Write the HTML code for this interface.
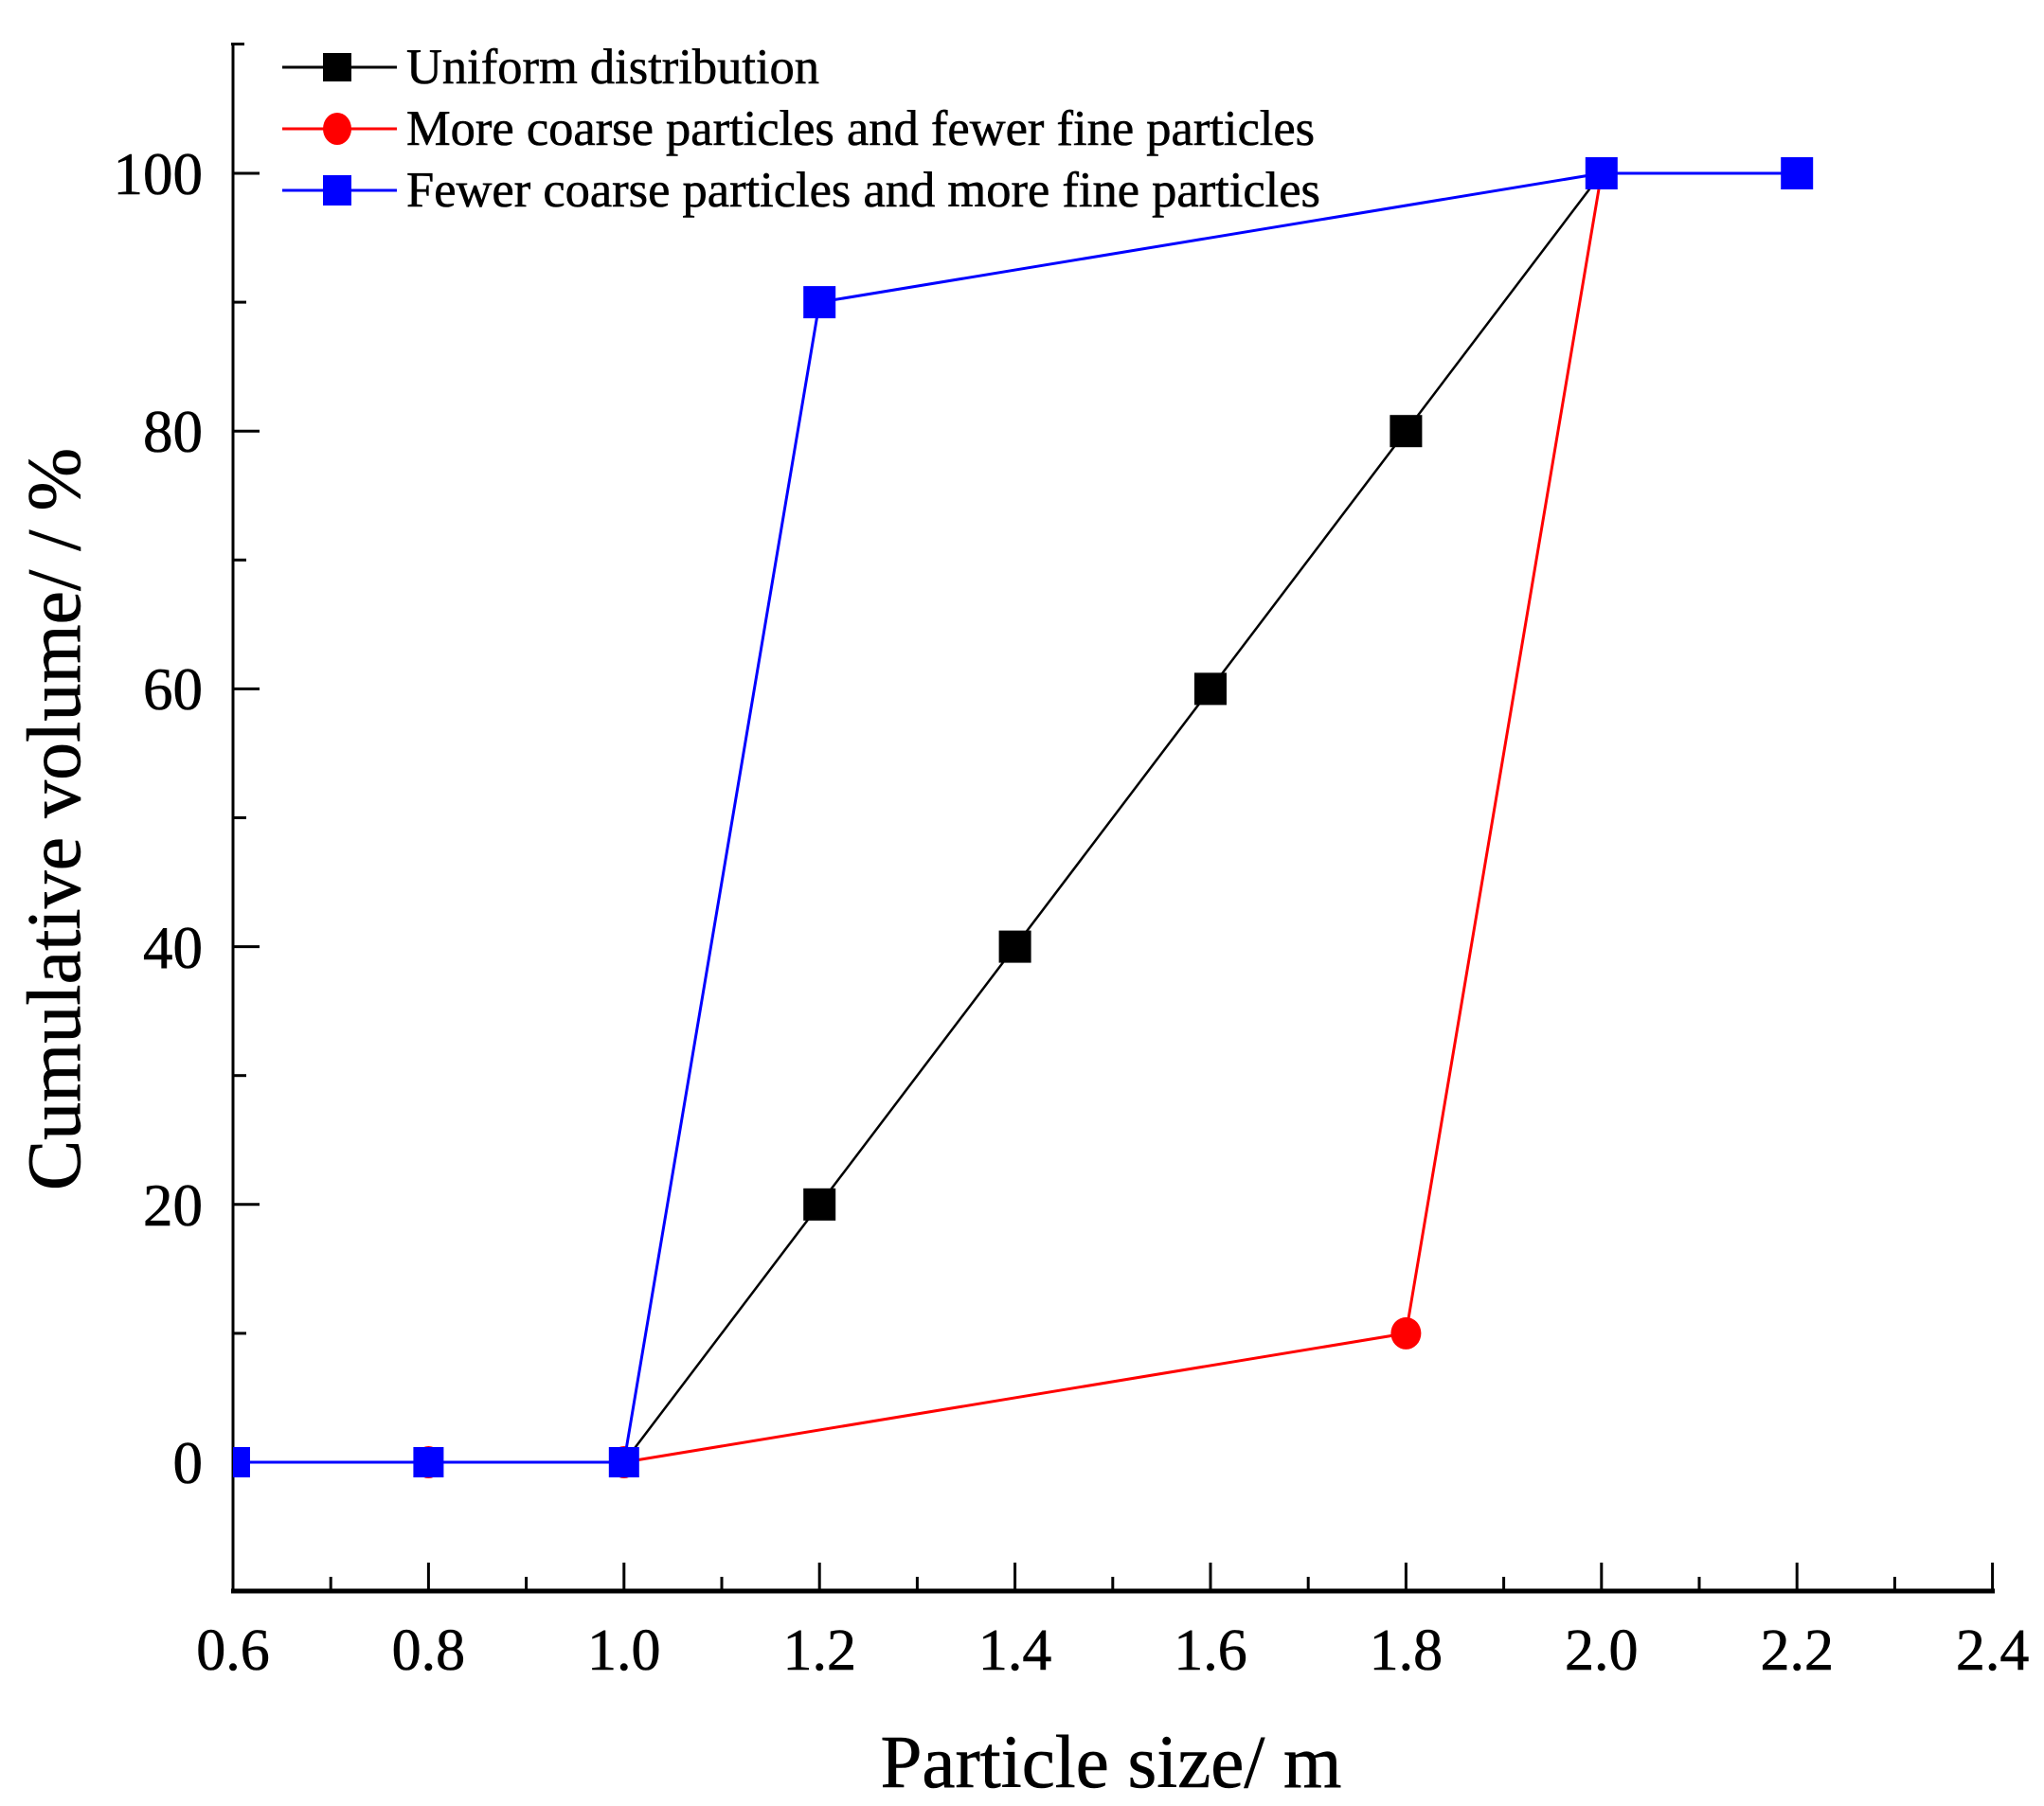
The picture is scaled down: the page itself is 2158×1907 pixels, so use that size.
<!DOCTYPE html>
<html><head><meta charset="utf-8"><style>html,body{margin:0;padding:0;background:#fff}svg{display:block}text{font-family:"Liberation Serif",serif;fill:#000;stroke:#000;stroke-width:0.6}</style></head>
<body>
<svg width="2158" height="1907" viewBox="0 0 2158 1907" xmlns="http://www.w3.org/2000/svg">
<line x1="246" y1="45" x2="246" y2="1682" stroke="#000" stroke-width="3"/>
<line x1="244" y1="46.5" x2="258" y2="46.5" stroke="#000" stroke-width="3"/>
<line x1="244" y1="1680" x2="2106" y2="1680" stroke="#000" stroke-width="5"/>
<g stroke="#000" stroke-width="3">
<line x1="246" y1="1544" x2="274" y2="1544"/>
<line x1="246" y1="1271.8" x2="274" y2="1271.8"/>
<line x1="246" y1="999.6" x2="274" y2="999.6"/>
<line x1="246" y1="727.4" x2="274" y2="727.4"/>
<line x1="246" y1="455.2" x2="274" y2="455.2"/>
<line x1="246" y1="183" x2="274" y2="183"/>
<line x1="246" y1="1407.9" x2="260" y2="1407.9"/>
<line x1="246" y1="1135.7" x2="260" y2="1135.7"/>
<line x1="246" y1="863.5" x2="260" y2="863.5"/>
<line x1="246" y1="591.3" x2="260" y2="591.3"/>
<line x1="246" y1="319.1" x2="260" y2="319.1"/>
</g>
<g stroke="#000" stroke-width="3">
<line x1="246" y1="1680" x2="246" y2="1650"/>
<line x1="452.4" y1="1680" x2="452.4" y2="1650"/>
<line x1="658.8" y1="1680" x2="658.8" y2="1650"/>
<line x1="865.2" y1="1680" x2="865.2" y2="1650"/>
<line x1="1071.6" y1="1680" x2="1071.6" y2="1650"/>
<line x1="1278" y1="1680" x2="1278" y2="1650"/>
<line x1="1484.4" y1="1680" x2="1484.4" y2="1650"/>
<line x1="1690.8" y1="1680" x2="1690.8" y2="1650"/>
<line x1="1897.2" y1="1680" x2="1897.2" y2="1650"/>
<line x1="2103.6" y1="1680" x2="2103.6" y2="1650"/>
<line x1="349.2" y1="1680" x2="349.2" y2="1665"/>
<line x1="555.6" y1="1680" x2="555.6" y2="1665"/>
<line x1="762" y1="1680" x2="762" y2="1665"/>
<line x1="968.4" y1="1680" x2="968.4" y2="1665"/>
<line x1="1174.8" y1="1680" x2="1174.8" y2="1665"/>
<line x1="1381.2" y1="1680" x2="1381.2" y2="1665"/>
<line x1="1587.6" y1="1680" x2="1587.6" y2="1665"/>
<line x1="1794" y1="1680" x2="1794" y2="1665"/>
<line x1="2000.4" y1="1680" x2="2000.4" y2="1665"/>
</g>
<g font-size="63" text-anchor="end">
<text x="214" y="1566">0</text>
<text x="214" y="1294">20</text>
<text x="214" y="1022">40</text>
<text x="214" y="749">60</text>
<text x="214" y="477">80</text>
<text x="214" y="205">100</text>
</g>
<g font-size="62" text-anchor="middle">
<text x="246" y="1763">0.6</text>
<text x="452.4" y="1763">0.8</text>
<text x="658.8" y="1763">1.0</text>
<text x="865.2" y="1763">1.2</text>
<text x="1071.6" y="1763">1.4</text>
<text x="1278" y="1763">1.6</text>
<text x="1484.4" y="1763">1.8</text>
<text x="1690.8" y="1763">2.0</text>
<text x="1897.2" y="1763">2.2</text>
<text x="2103.6" y="1763">2.4</text>
</g>
<text x="1173" y="1887" font-size="79" text-anchor="middle">Particle size/ m</text>
<text transform="translate(84,865) rotate(-90)" font-size="80" text-anchor="middle">Cumulative volume/ / %</text>
<polyline fill="none" stroke="#000" stroke-width="2.5" points="246,1544 452.4,1544 658.8,1544 865.2,1271.8 1071.6,999.6 1278,727.4 1484.4,455.2 1690.8,183"/>
<g fill="#000">
<rect x="848.2" y="1254.8" width="34" height="34"/>
<rect x="1054.6" y="982.6" width="34" height="34"/>
<rect x="1261" y="710.4" width="34" height="34"/>
<rect x="1467.4" y="438.2" width="34" height="34"/>
</g>
<polyline fill="none" stroke="#f00" stroke-width="3" points="246,1544 452.4,1544 658.8,1544 1484.4,1407.9 1690.8,183 1897.2,183"/>
<g fill="#f00">
<ellipse cx="452.4" cy="1544" rx="15" ry="17"/>
<ellipse cx="658.8" cy="1544" rx="15" ry="17"/>
<ellipse cx="1484.4" cy="1407.9" rx="16" ry="17"/>
<ellipse cx="1690.8" cy="183" rx="16" ry="17"/>
<ellipse cx="1897.2" cy="183" rx="16" ry="17"/>
</g>
<polyline fill="none" stroke="#00f" stroke-width="3" points="246,1544 452.4,1544 658.8,1544 865.2,319.1 1690.8,183 1897.2,183"/>
<g fill="#00f">
<rect x="246" y="1528" width="18" height="32"/>
<rect x="436.4" y="1528" width="32" height="32"/>
<rect x="642.8" y="1528" width="32" height="32"/>
<rect x="848.2" y="302.1" width="34" height="34"/>
<rect x="1673.8" y="166" width="34" height="34"/>
<rect x="1880.2" y="166" width="34" height="34"/>
</g>
<line x1="298" y1="71" x2="419" y2="71" stroke="#000" stroke-width="3"/>
<rect x="341" y="56" width="30" height="30" fill="#000"/>
<text x="429" y="88" font-size="52.5">Uniform distribution</text>
<line x1="298" y1="136" x2="419" y2="136" stroke="#f00" stroke-width="3"/>
<ellipse cx="356" cy="136" rx="15" ry="17" fill="#f00"/>
<text x="429" y="153" font-size="52.5">More coarse particles and fewer fine particles</text>
<line x1="298" y1="201" x2="419" y2="201" stroke="#00f" stroke-width="3"/>
<rect x="341" y="185" width="30" height="32" fill="#00f"/>
<text x="429" y="218" font-size="52.5">Fewer coarse particles and more fine particles</text>
</svg>
</body></html>
